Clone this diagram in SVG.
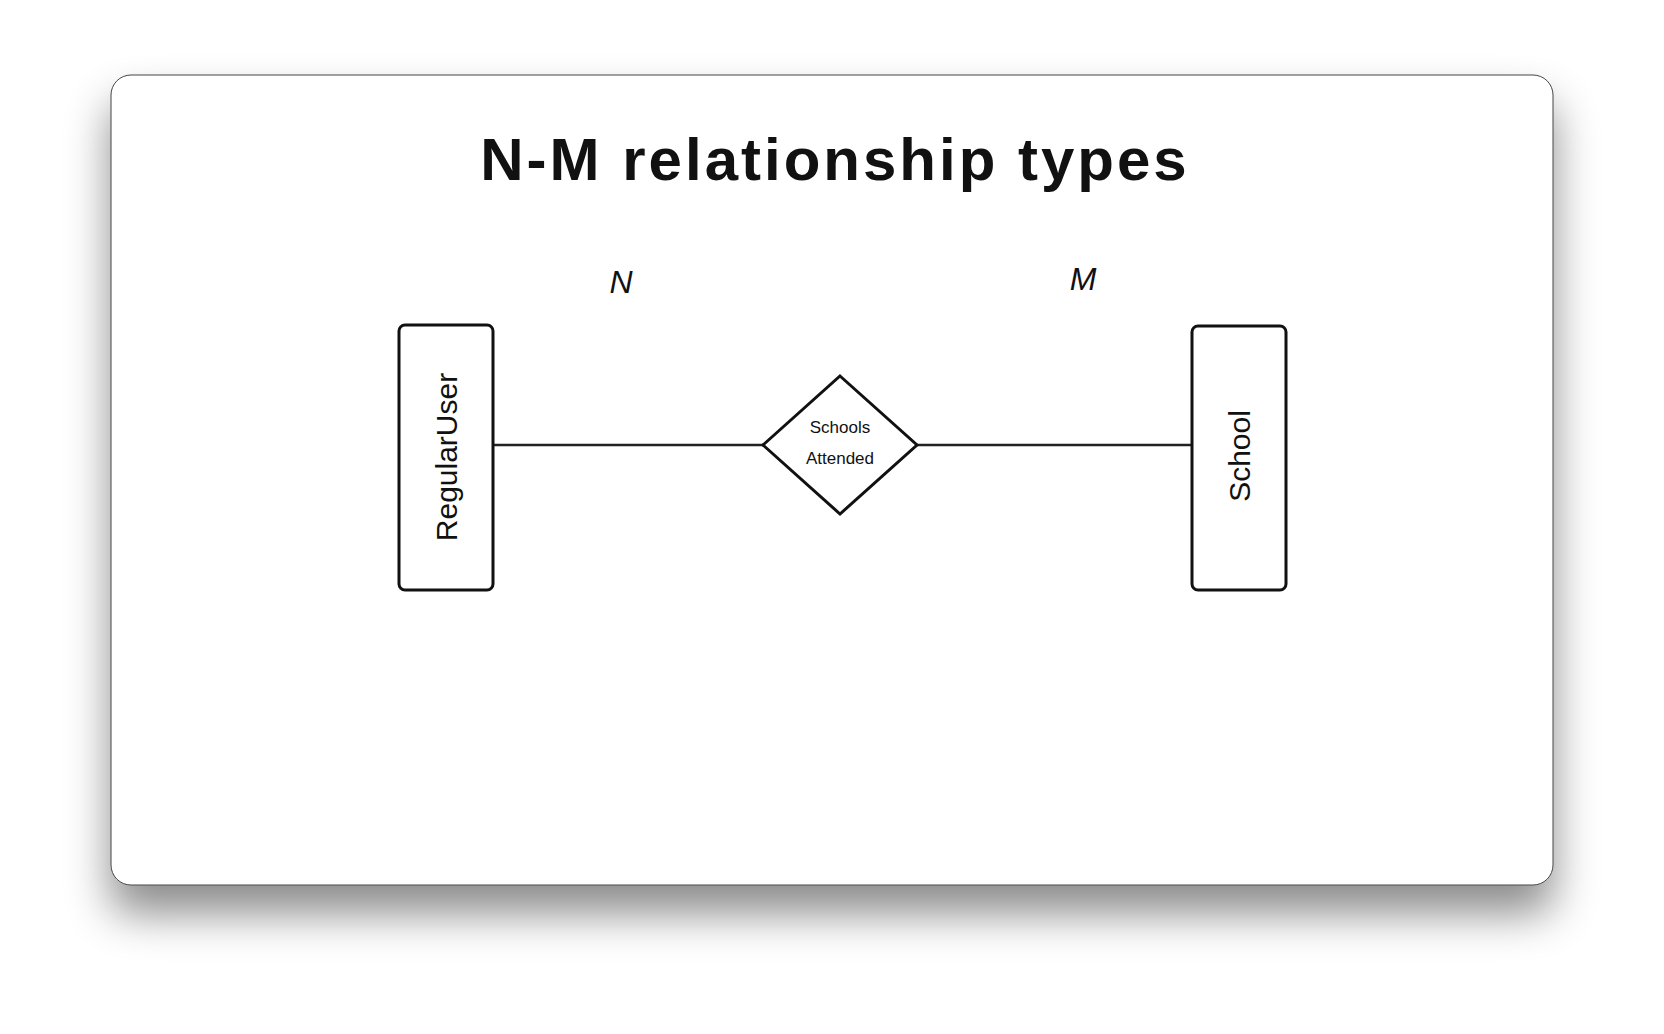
<svg xmlns="http://www.w3.org/2000/svg" width="1664" height="1034" viewBox="0 0 1664 1034">
<defs>
<filter id="sh" x="-10%" y="-10%" width="120%" height="130%"><feDropShadow dx="0" dy="28" stdDeviation="22" flood-color="#000" flood-opacity="0.45"/></filter>
<style>
.ent{fill:#fff;stroke:#111;stroke-width:3}
.t{font-family:"Comic Sans MS","Liberation Sans",sans-serif;fill:#111}
.ln{stroke:#222;stroke-width:2.5;fill:none}
</style>
</defs>
<rect width="1664" height="1034" fill="#fff"/>
<rect x="111" y="75" width="1442" height="810" rx="20" fill="#fff" stroke="#444" stroke-width="1" filter="url(#sh)"/>
<text class="t" x="835" y="180" font-size="60" font-weight="bold" letter-spacing="3" text-anchor="middle">N-M relationship types</text>
<g id="connectors">
<line class="ln" x1="493" y1="445" x2="763" y2="445"/>
<line class="ln" x1="917" y1="445" x2="1192" y2="445"/>
</g>
<text class="t" x="621" y="293" font-size="32" font-style="italic" text-anchor="middle">N</text>
<text class="t" x="1083" y="290" font-size="32" font-style="italic" text-anchor="middle">M</text>
<g id="RegularUser">
<rect class="ent" x="399" y="325" width="94" height="265" rx="6"/>
<text class="t" font-size="30" text-anchor="middle" transform="translate(457 457) rotate(-90)">RegularUser</text>
</g>
<g id="School">
<rect class="ent" x="1192" y="326" width="94" height="264" rx="6"/>
<text class="t" font-size="30" text-anchor="middle" transform="translate(1250 456) rotate(-90)">School</text>
</g>
<g id="SchoolsAttended">
<polygon class="ent" points="840,376 917,445 840,514 763,445"/>
<text class="t" x="840" y="433" font-size="17" text-anchor="middle">Schools</text>
<text class="t" x="840" y="464" font-size="17" text-anchor="middle">Attended</text>
</g>
</svg>
